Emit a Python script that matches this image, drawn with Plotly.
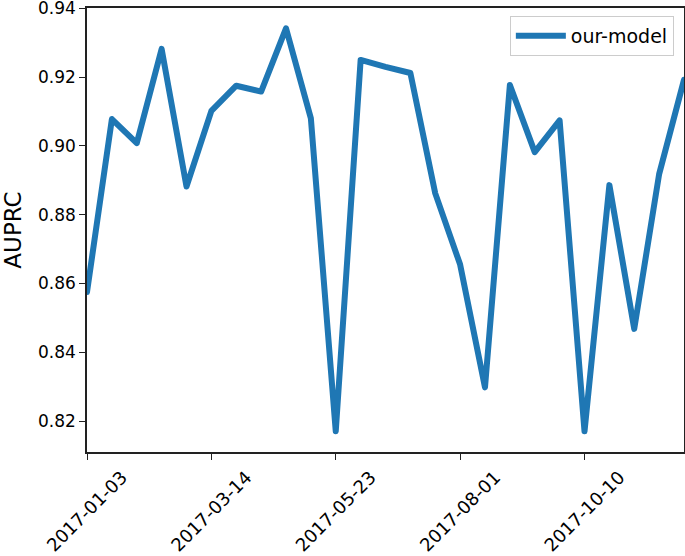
import plotly.graph_objects as go

dates = ["2017-01-03", "2017-01-17", "2017-01-31", "2017-02-14", "2017-02-28",
         "2017-03-14", "2017-03-28", "2017-04-11", "2017-04-25", "2017-05-09",
         "2017-05-23", "2017-06-06", "2017-06-20", "2017-07-04", "2017-07-18",
         "2017-08-01", "2017-08-15", "2017-08-29", "2017-09-12", "2017-09-26",
         "2017-10-10", "2017-10-24", "2017-11-07", "2017-11-21", "2017-12-05"]
auprc = [0.8575, 0.9078, 0.9008, 0.9282, 0.8882,
         0.9102, 0.9175, 0.9158, 0.9342, 0.9080,
         0.8170, 0.9250, 0.9230, 0.9212, 0.8862,
         0.8655, 0.8298, 0.9177, 0.8982, 0.9074,
         0.8170, 0.8886, 0.8468, 0.8918, 0.9192]
x_ticks = ["2017-01-03", "2017-03-14", "2017-05-23", "2017-08-01", "2017-10-10"]
y_ticks = [0.82, 0.84, 0.86, 0.88, 0.90, 0.92, 0.94]

fig = go.Figure()
fig.add_trace(go.Scatter(x=dates, y=auprc, mode="lines", name="our-model",
                         line=dict(color="#1f77b4", width=6)))

font = "DejaVu Sans"
fig.update_layout(
    width=685, height=556,
    margin=dict(l=87, r=1, t=8, b=104, autoexpand=False),
    plot_bgcolor="white", paper_bgcolor="white",
    font=dict(family=font, size=17, color="black"),
    showlegend=True,
    legend=dict(x=0.983, y=0.982, xanchor="right", yanchor="top",
                bgcolor="white", bordercolor="#cccccc", borderwidth=1,
                itemwidth=50, font=dict(size=19)),
    xaxis=dict(type="date", range=[dates[0], dates[-1]],
               tickvals=x_ticks, ticktext=x_ticks, tickangle=-45,
               ticklabelshift=35, ticklabelstandoff=0,
               ticklabeloverflow="allow",
               showgrid=False, zeroline=False, automargin=False,
               showline=True, linecolor="#222", linewidth=1.5, mirror=True,
               ticks="outside", ticklen=6, tickwidth=1.2, tickcolor="#222",
               tickfont=dict(size=18)),
    yaxis=dict(range=[0.811, 0.9401], tickvals=y_ticks,
               tickformat=".2f", showgrid=False, zeroline=False, automargin=False,
               ticklabeloverflow="allow",
               showline=True, linecolor="#222", linewidth=1.5, mirror=True,
               ticks="outside", ticklen=6, tickwidth=1.2, tickcolor="#222",
               tickfont=dict(size=17),
               title=dict(text="AUPRC", font=dict(size=23), standoff=10)),
)

post = ("document.body.style.margin='0';"
        "document.querySelectorAll('.scatterlayer .js-line').forEach(function(p){"
        "p.style.strokeLinejoin='round';p.style.strokeLinecap='round';});")
fig.write_html("out.html", config={"displayModeBar": False}, post_script=post)
